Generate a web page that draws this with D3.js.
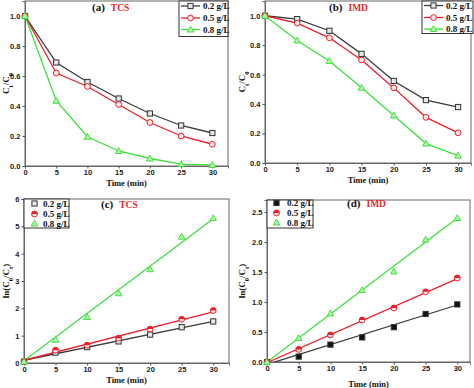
<!DOCTYPE html>
<html>
<head>
<meta charset="utf-8">
<script src="https://cdn.jsdelivr.net/npm/d3@7"></script>
<style>
  body { margin: 0; background: #fff; }
  svg { display: block; }
  .tick text { font-family: "Liberation Sans", Arial, sans-serif; font-weight: bold; font-size: 7.5px; fill: #222; }
</style>
</head>
<body>
<script>
// time axis, shared by all four panels
const times = [0, 5, 10, 15, 20, 25, 30];
const doses = ["0.2 g/L", "0.5 g/L", "0.8 g/L"];

// (a) TCS, Ct/C0
const tcsRatio02 = [1.0, 0.69, 0.56, 0.45, 0.35, 0.27, 0.22];
const tcsRatio05 = [1.0, 0.62, 0.53, 0.41, 0.29, 0.20, 0.145];
const tcsRatio08 = [1.0, 0.435, 0.195, 0.10, 0.05, 0.013, 0.007];

// (b) IMD, Ct/C0
const imdRatio02 = [1.0, 0.977, 0.898, 0.741, 0.557, 0.427, 0.38];
const imdRatio05 = [1.0, 0.95, 0.85, 0.70, 0.51, 0.31, 0.205];
const imdRatio08 = [1.0, 0.832, 0.693, 0.511, 0.323, 0.132, 0.05];

// (c) TCS, ln(C0/Ct)
const tcsLn02 = [0.05, 0.38, 0.58, 0.79, 1.04, 1.31, 1.52];
const tcsLn05 = [0.05, 0.47, 0.65, 0.91, 1.24, 1.60, 1.92];
const tcsLn08 = [0.05, 0.85, 1.68, 2.55, 3.43, 4.62, 5.30];
// fitted lines, value at t=0 and at t=30
const tcsFit02 = [0.10, 1.52];
const tcsFit05 = [0.10, 1.87];
const tcsFit08 = [0.08, 5.28];

// (d) IMD, ln(C0/Ct)
const imdLn02 = [0.0, 0.09, 0.29, 0.41, 0.58, 0.80, 0.96];
const imdLn05 = [0.0, 0.21, 0.45, 0.70, 0.90, 1.17, 1.40];
const imdLn08 = [0.0, 0.40, 0.81, 1.20, 1.51, 2.04, 2.40];
const imdFit02 = [-0.04, 0.95];
const imdFit05 = [-0.01, 1.39];
const imdFit08 = [0.0, 2.40];

const fitTimes = [0, 30];

const colors = ["#3c3c3c", "#e8202a", "#3ee03a"];

const svg = d3.select("body").append("svg").attr("width", 474).attr("height", 388);

const defs = svg.append("defs");

function marker(g, kind, x, y, i, filledSquare) {
  const c = colors[i];
  if (i === 0) {
    g.append("rect").attr("x", x - 2.6).attr("y", y - 2.6).attr("width", 5.2).attr("height", 5.2)
      .attr("fill", filledSquare ? "#111" : "#e6e6e6").attr("stroke", "#333").attr("stroke-width", 1);
  } else if (i === 1) {
    g.append("circle").attr("cx", x).attr("cy", y).attr("r", 2.9)
      .attr("fill", "#fde8e8").attr("stroke", c).attr("stroke-width", 1);
    if (kind === "half") {
      g.append("path").attr("d", `M${x - 2.9},${y} A2.9,2.9 0 0 1 ${x + 2.9},${y} Z`).attr("fill", c);
    }
  } else {
    const r = 3.3;
    g.append("path")
      .attr("d", `M${x},${y - r} L${x + r},${y + r * 0.75} L${x - r},${y + r * 0.75} Z`)
      .attr("fill", "#b8f5b0").attr("stroke", c).attr("stroke-width", 1);
  }
}

function drawPanel(p) {
  const g = svg.append("g");
  const x = d3.scaleLinear().domain(p.xDomain).range([p.left, p.right]);
  const y = d3.scaleLinear().domain(p.yDomain).range([p.bottom, p.top]);

  const clipId = "clip" + p.id;
  defs.append("clipPath").attr("id", clipId).append("rect")
    .attr("x", p.left).attr("y", p.top).attr("width", p.right - p.left).attr("height", p.bottom - p.top);

  // frame
  g.append("rect").attr("x", p.left).attr("y", p.top)
    .attr("width", p.right - p.left).attr("height", p.bottom - p.top)
    .attr("fill", "none").attr("stroke", "#666").attr("stroke-width", 1);

  const xAxis = g.append("g").attr("transform", `translate(0,${p.bottom})`)
    .call(d3.axisBottom(x).tickValues(times).tickSize(2.5).tickPadding(1).tickFormat(d3.format("d")));
  const yAxis = g.append("g").attr("transform", `translate(${p.left},0)`)
    .call(d3.axisLeft(y).tickValues(p.yTicks).tickSize(2.5).tickPadding(2).tickFormat(d3.format(p.yFormat)));
  [xAxis, yAxis].forEach(a => {
    a.select(".domain").attr("stroke", "#666");
    a.selectAll(".tick line").attr("stroke", "#555");
  });

  const plot = g.append("g").attr("clip-path", `url(#${clipId})`);
  const line = d3.line().x(d => x(d[0])).y(d => y(d[1]));

  p.series.forEach((s, i) => {
    if (p.fits) {
      plot.append("path").datum(fitTimes.map((t, k) => [t, p.fits[i][k]]))
        .attr("d", line).attr("fill", "none").attr("stroke", colors[i]).attr("stroke-width", 1.3);
    } else {
      plot.append("path").datum(times.map((t, k) => [t, s[k]]))
        .attr("d", line).attr("fill", "none").attr("stroke", colors[i]).attr("stroke-width", 1.3);
    }
  });
  p.series.forEach((s, i) => {
    times.forEach((t, k) => marker(g, p.fits ? "half" : "open", x(t), y(s[k]), i, p.filledSquare));
  });

  // legend
  const lg = g.append("g");
  lg.append("rect").attr("x", p.legend.x).attr("y", p.legend.y)
    .attr("width", p.legend.w).attr("height", p.legend.h)
    .attr("fill", "#fff").attr("stroke", "#333").attr("stroke-width", 1);
  doses.forEach((d, i) => {
    const ly = p.legend.rows[i];
    if (!p.fits) {
      lg.append("line").attr("x1", p.legend.x + 2).attr("x2", p.legend.x + 21)
        .attr("y1", ly).attr("y2", ly).attr("stroke", colors[i]).attr("stroke-width", 1.3);
      marker(lg, "open", p.legend.x + 11.5, ly, i, false);
    } else {
      marker(lg, "half", p.legend.markX, ly, i, p.filledSquare);
    }
    lg.append("text").attr("x", p.legend.textX).attr("y", ly + 3)
      .attr("font-family", "Liberation Serif, Times New Roman, serif").attr("font-weight", "bold")
      .attr("font-size", 9).attr("fill", "#111").text(d);
  });

  // panel title
  const t = g.append("text").attr("x", p.title.x).attr("y", p.title.y)
    .attr("font-family", "Liberation Serif, Times New Roman, serif").attr("font-weight", "bold");
  t.append("tspan").attr("font-size", 11).attr("fill", "#111").text(p.title.tag);
  t.append("tspan").attr("font-size", 9.5).attr("fill", "#e0282e").attr("dx", 6).text(p.title.name);

  // x label
  g.append("text").attr("x", (p.left + p.right) / 2).attr("y", p.xLabelY)
    .attr("text-anchor", "middle").attr("font-family", "Liberation Serif, Times New Roman, serif")
    .attr("font-weight", "bold").attr("font-size", 8.5).attr("fill", "#111").text("Time (min)");

  // y label with subscripts
  const yl = g.append("text")
    .attr("transform", `translate(${p.yLabelX},${(p.top + p.bottom) / 2}) rotate(-90)`)
    .attr("text-anchor", "middle").attr("font-family", "Liberation Serif, Times New Roman, serif")
    .attr("font-weight", "bold").attr("font-size", 9).attr("fill", "#111");
  p.yLabel.forEach(part => {
    const ts = yl.append("tspan").text(part.t);
    if (part.sub) ts.attr("font-size", 6.5).attr("baseline-shift", "sub");
  });
}

const ratioLabel = [{ t: "C" }, { t: "t", sub: true }, { t: "/C" }, { t: "0", sub: true }];
const lnLabel = [{ t: "ln(C" }, { t: "0", sub: true }, { t: "/C" }, { t: "t", sub: true }, { t: ")" }];

drawPanel({
  id: "a", left: 25, right: 228, top: 1, bottom: 166,
  xDomain: [0, 32.5], yDomain: [0, 1.1], yTicks: [0, 0.2, 0.4, 0.6, 0.8, 1.0], yFormat: ".1f",
  series: [tcsRatio02, tcsRatio05, tcsRatio08],
  legend: { x: 179, y: 1, w: 49, h: 35.5, rows: [6, 18, 29.5], textX: 203 },
  title: { x: 92, y: 11, tag: "(a)", name: "TCS" },
  xLabelY: 186, yLabelX: 9, yLabel: ratioLabel
});

drawPanel({
  id: "b", left: 265, right: 471, top: 1, bottom: 163,
  xDomain: [0, 32], yDomain: [0, 1.1], yTicks: [0, 0.2, 0.4, 0.6, 0.8, 1.0], yFormat: ".1f",
  series: [imdRatio02, imdRatio05, imdRatio08],
  legend: { x: 422, y: 1, w: 51, h: 32.5, rows: [5.5, 17.5, 29], textX: 446 },
  title: { x: 329, y: 11, tag: "(b)", name: "IMD" },
  xLabelY: 182.5, yLabelX: 245, yLabel: ratioLabel
});

drawPanel({
  id: "c", left: 24, right: 229, top: 199, bottom: 363,
  xDomain: [0, 32.5], yDomain: [0, 6], yTicks: [0, 1, 2, 3, 4, 5, 6], yFormat: "d",
  series: [tcsLn02, tcsLn05, tcsLn08], fits: [tcsFit02, tcsFit05, tcsFit08],
  legend: { x: 24, y: 199, w: 45, h: 29, rows: [203.5, 214, 223.5], markX: 34.5, textX: 43 },
  title: { x: 101, y: 208, tag: "(c)", name: "TCS" },
  xLabelY: 383, yLabelX: 9, yLabel: lnLabel
});

drawPanel({
  id: "d", left: 267, right: 470, top: 200, bottom: 362,
  xDomain: [0, 32], yDomain: [0, 2.7], yTicks: [0, 0.5, 1.0, 1.5, 2.0, 2.5], yFormat: ".1f",
  series: [imdLn02, imdLn05, imdLn08], fits: [imdFit02, imdFit05, imdFit08], filledSquare: true,
  legend: { x: 267, y: 200, w: 46, h: 28, rows: [203, 213, 222.5], markX: 276.5, textX: 287 },
  title: { x: 347, y: 207, tag: "(d)", name: "IMD" },
  xLabelY: 386.5, yLabelX: 245, yLabel: lnLabel
});
</script>
</body>
</html>
